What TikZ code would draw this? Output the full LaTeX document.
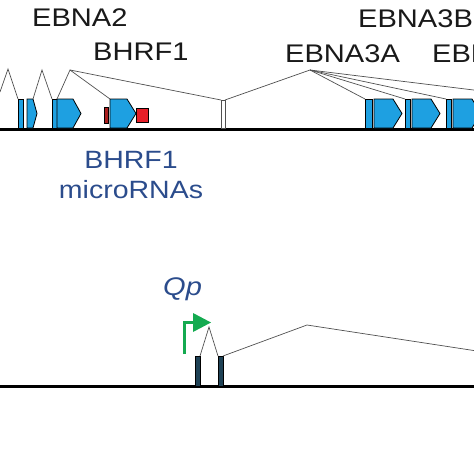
\documentclass[tikz,border=0pt]{standalone}
\usepackage{fontspec}
\setmainfont[FakeStretch=1.14]{Liberation Sans}
\definecolor{exblue}{RGB}{30,160,225}
\definecolor{exred}{RGB}{230,30,40}
\definecolor{exdred}{RGB}{170,30,30}
\definecolor{exdark}{RGB}{30,65,85}
\definecolor{spl}{RGB}{80,80,80}
\definecolor{txtblue}{RGB}{43,76,140}
\definecolor{prgreen}{RGB}{20,170,80}
\tikzset{
  exon/.style={fill=exblue,draw=black,line width=0.8pt},
  exonred/.style={fill=exred,draw=black,line width=0.6pt},
  exondred/.style={fill=exdred,draw=black,line width=0.6pt},
  exondark/.style={fill=exdark,draw=black,line width=0.8pt},
  splice/.style={draw=spl,line width=0.7pt},
  genome/.style={draw=black,line width=3pt},
  lbl/.style={inner sep=0pt,anchor=base west,text=black!90,font=\fontsize{25.5}{30}\selectfont},
  bluelbl/.style={inner sep=0pt,anchor=base,text=txtblue,font=\fontsize{25}{30}\selectfont},
  promoter/.style={draw=prgreen,line width=3.5pt}
}
\begin{document}
\begin{tikzpicture}[x=1pt,y=-1pt]
\useasboundingbox (0,0) rectangle (474,474);
\clip (0,0) rectangle (474,474);
% genome lines
\coordinate (gL) at (0,129.5); \coordinate (gR) at (474,129.5);
\draw[genome] (gL) -- (gR);
\coordinate (bL) at (0,386.5); \coordinate (bR) at (474,386.5);
\draw[genome] (bL) -- (bR);
% top exons
\draw[exon] (18,99) rectangle (23.5,128);
\draw[exon] (27,99) -- (33,99) -- (37,113.5) -- (33,128) -- (27,128) -- cycle;
\draw[exon] (52,99) rectangle (57,128);
\draw[exon] (57,99) -- (73,99) -- (81,113.5) -- (73,128) -- (57,128) -- cycle;
\draw[exondred] (104,107) rectangle (108,123);
\draw[exon] (110,99) -- (127,99) -- (136,113.5) -- (127,128) -- (110,128) -- cycle;
\draw[exonred] (136,108) rectangle (148,122);
\draw[draw=spl,fill=white,line width=0.6pt] (221,100) rectangle (225,128);
\draw[exon] (365,99) rectangle (372,128);
\draw[exon] (374,99) -- (393,99) -- (402,113.5) -- (393,128) -- (374,128) -- cycle;
\draw[exon] (405,99) rectangle (410,128);
\draw[exon] (412,99) -- (431,99) -- (440,113.5) -- (431,128) -- (412,128) -- cycle;
\draw[exon] (446,99) rectangle (451.5,128);
\draw[exon] (453,99) -- (472,99) -- (481,113.5) -- (472,128) -- (453,128) -- cycle;
% splice coordinates
\coordinate (s0) at (0,92);
\coordinate (p1) at (8,69);
\coordinate (e1) at (18,99);
\coordinate (e2) at (33,99);
\coordinate (p2) at (42,70);
\coordinate (e3) at (52,99);
\coordinate (e4) at (57,99);
\coordinate (p3) at (70,70);
\coordinate (e5) at (110,99);
\coordinate (i1) at (221,100);
\coordinate (i2) at (225,100);
\coordinate (p4) at (310,70);
\coordinate (e6) at (365,99);
\coordinate (e7) at (405,99);
\coordinate (e8) at (446,99);
\coordinate (e9) at (490,92);
\draw[splice] (s0) -- (p1) -- (e1);
\draw[splice] (e2) -- (p2) -- (e3);
\draw[splice] (e4) -- (p3) -- (e5);
\draw[splice] (p3) -- (i1);
\draw[splice] (i2) -- (p4) -- (e6);
\draw[splice] (p4) -- (e7);
\draw[splice] (p4) -- (e8);
\draw[splice] (p4) -- (e9);
% labels
\node[lbl] (ebna2) at (32,26) {EBNA2};
\node[lbl] (bhrf1) at (93,60) {BHRF1};
\node[lbl] (ebna3a) at (285,62) {EBNA3A};
\node[lbl] (ebna3b) at (358,27) {EBNA3B-};
\node[lbl] (ebna3c) at (432,62) {EBNA3C};
\node[bluelbl] (mir1) at (131,168) {BHRF1};
\node[bluelbl] (mir2) at (131,198) {microRNAs};
% bottom
\draw[exondark] (195,356) rectangle (200,386);
\draw[exondark] (218,356) rectangle (223,386);
\coordinate (q1) at (200,356);
\coordinate (qp1) at (209,327);
\coordinate (q2) at (218,356);
\coordinate (q3) at (223,356);
\coordinate (qp2) at (307,325);
\coordinate (q4) at (490,353);
\draw[splice] (q1) -- (qp1) -- (q2);
\draw[splice] (q3) -- (qp2) -- (q4);
\coordinate (ar0) at (184.5,354);
\coordinate (ar1) at (184.5,322.5);
\coordinate (ar2) at (195,322.5);
\draw[promoter] (ar0) -- (ar1) -- (ar2);
\fill[prgreen] (193,313) -- (211,322.5) -- (193,332) -- cycle;
\node[lbl,text=txtblue,font=\fontsize{25.5}{30}\selectfont\itshape] (qp) at (163,295) {Qp};
\end{tikzpicture}
\end{document}
